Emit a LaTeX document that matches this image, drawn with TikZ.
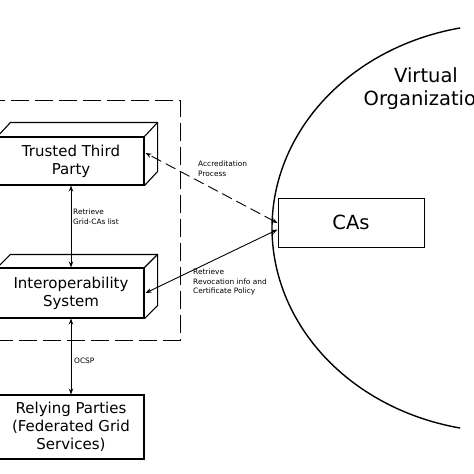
\documentclass[tikz,border=0pt]{standalone}
\usepackage{fontspec}
\setmainfont{DejaVu Sans}
\usetikzlibrary{arrows.meta,calc}
\tikzset{
  face/.style={draw, line width=1.1pt, fill=white, minimum width=146pt, inner sep=0pt, align=center, font=\fontsize{15}{18.2}\selectfont},
  depth/.style={line width=1.1pt, line join=miter},
  conn/.style={line width=0.9pt, {Stealth[length=6pt,width=4.5pt]}-{Stealth[length=6pt,width=4.5pt]}},
  lbl/.style={inner sep=0pt, align=left, font=\fontsize{7.4}{9.3}\selectfont},
  group/.style={line width=1pt, dash pattern=on 18pt off 6pt}
}
\begin{document}
\begin{tikzpicture}[x=1pt,y=-1pt]
\useasboundingbox (0,0) rectangle (474,474);
\clip (0,0) rectangle (474,474);
% group frame
\draw[group] (-5,100) rectangle (180,340);
% boxes
\node[face, minimum height=48pt] (ttp) at (71,161) {Trusted Third\\Party};
\draw[depth] (ttp.north west) -- ++(13,-14) -- ($(ttp.north east)+(13,-14)$) -- ($(ttp.south east)+(13,-14)$) -- (ttp.south east);
\draw[depth] (ttp.north east) -- ++(13,-14);
\node[face, minimum height=50pt] (is) at (71,293) {Interoperability\\System};
\draw[depth] (is.north west) -- ++(13,-13) -- ($(is.north east)+(13,-13)$) -- ($(is.south east)+(13,-13)$) -- (is.south east);
\draw[depth] (is.north east) -- ++(13,-13);
\node[face, minimum height=64pt] (rp) at (71,427) {Relying Parties\\(Federated Grid\\Services)};
% virtual organization
\draw[line width=1.4pt] plot[domain=101.3:258.7, samples=120, smooth] ({506+234*cos(\x)}, {228-204*sin(\x)});
\node[align=center, font=\fontsize{19.5}{23}\selectfont] (vo) at (426,89) {Virtual\\Organization};
\node[draw, line width=0.8pt, minimum width=146pt, minimum height=49pt, inner sep=0pt, font=\fontsize{19.5}{23}\selectfont] (cas) at (351,222.5) {CAs};
% connectors
\draw[conn] (ttp.south) -- (is.north);
\draw[conn] (is.south) -- (rp.north);
\draw[conn, dash pattern=on 11pt off 5pt] ($(cas.west)+(0,0.5)$) -- ($(ttp.east)+(1,-8)$);
\draw[conn] ($(cas.west)+(0,7)$) -- ($(is.east)+(1,0)$);
% labels
\node[lbl, anchor=north west] (l1) at (73,209) {Retrieve\\Grid-CAs list};
\node[lbl, anchor=north west] (l2) at (74,358) {OCSP};
\node[lbl, anchor=north west] (l3) at (198,161) {Accreditation\\Process};
\node[lbl, anchor=north west] (l4) at (193,269) {Retrieve\\Revocation info and\\Certificate Policy};
\end{tikzpicture}
\end{document}
